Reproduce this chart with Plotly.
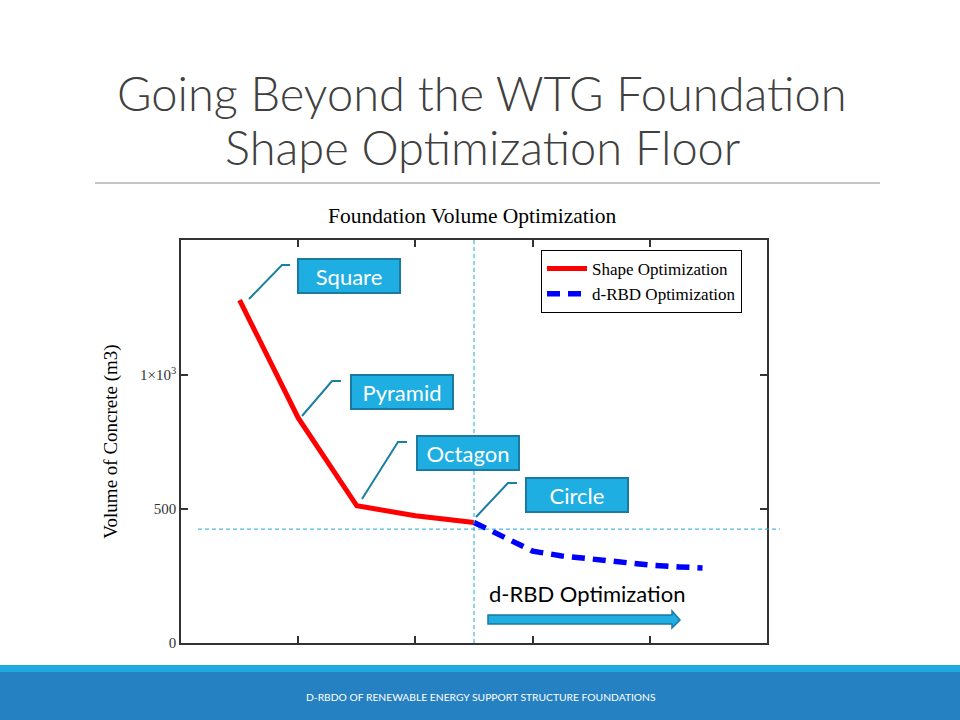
import plotly.graph_objects as go

# ---------------- data ----------------
shape_x = [0.5, 1.0, 1.5, 2.0, 2.5]
shape_y = [1280, 840, 512, 475, 450]
rbd_x = [2.5, 2.75, 3.0, 3.25, 3.5, 3.75, 4.0, 4.25, 4.45]
rbd_y = [450, 397, 343, 325, 312, 302, 291, 284, 280]
x_tickvals = [1, 2, 3, 4]
y_tickvals = [0, 500, 1000]
y_ticktext = ["0", "500", "1×10<sup>3</sup>"]
callout_labels = ["Square", "Pyramid", "Octagon", "Circle"]
ref_x = 2.5
ref_y = 425

slide_title = ["Going Beyond the WTG Foundation", "Shape Optimization Floor"]
chart_title = "Foundation Volume Optimization"
footer_text = "D-RBDO OF RENEWABLE ENERGY SUPPORT STRUCTURE FOUNDATIONS"

# ---------------- layout helpers (pixel -> paper) ----------------
L, R, T, B = 181, 767, 240, 643
W, H = R - L, B - T


def P(px):
    return (px - L) / W


def Q(py):
    return (B - py) / H


SERIF = "Liberation Serif, Times New Roman, serif"
SANS = "Lato, Carlito, Open Sans, sans-serif"
BOX_FILL = "#1eaee2"
BOX_LINE = "#1a7aa0"

fig = go.Figure()
fig.add_trace(go.Scatter(x=shape_x, y=shape_y, mode="lines", name="Shape Optimization",
                         line=dict(color="#ff0000", width=5)))
fig.add_trace(go.Scatter(x=rbd_x, y=rbd_y, mode="lines", name="d-RBD Optimization",
                         line=dict(color="#0000ff", width=5.5, dash="13px,8px")))

shapes = []
annotations = []

# reference dashed lines
shapes.append(dict(type="line", xref="x", yref="paper", x0=ref_x, x1=ref_x, y0=0, y1=Q(237),
                   line=dict(color="#1ea5da", width=1, dash="4px,3px"), layer="above"))
shapes.append(dict(type="line", xref="paper", yref="y", x0=P(198), x1=P(780), y0=ref_y, y1=ref_y,
                   line=dict(color="#1ea5da", width=1, dash="4px,3px"), layer="above"))

# callout boxes
box_centers = [(349, 276), (402, 392), (468, 453), (576.5, 494.5)]
leaders = [
    [(249, 299), (282, 265), (290, 265)],
    [(302, 416), (332, 381), (341, 381)],
    [(362, 499), (398, 442), (407, 442)],
    [(476, 517), (508, 483), (517, 483)],
]
for lab, (cx, cy), pts in zip(callout_labels, box_centers, leaders):
    annotations.append(dict(text=lab, xref="paper", yref="paper", x=P(cx), y=Q(cy),
                            xanchor="center", yanchor="middle", showarrow=False,
                            width=100, height=32, bgcolor=BOX_FILL, bordercolor=BOX_LINE,
                            borderwidth=2, borderpad=0,
                            font=dict(family=SANS, size=22, color="white")))
    path = "M " + " L ".join(f"{P(x):.5f},{Q(y):.5f}" for x, y in pts)
    shapes.append(dict(type="path", xref="paper", yref="paper", path=path,
                       line=dict(color="#1a7fa0", width=2)))

# d-RBD arrow
arrow_pts = [(488, 615), (672, 615), (672, 611), (680, 620), (672, 628), (672, 624), (488, 624)]
apath = "M " + " L ".join(f"{P(x):.5f},{Q(y):.5f}" for x, y in arrow_pts) + " Z"
shapes.append(dict(type="path", xref="paper", yref="paper", path=apath,
                   fillcolor=BOX_FILL, line=dict(color=BOX_LINE, width=1.5)))
annotations.append(dict(text="d-RBD Optimization", xref="paper", yref="paper", x=P(587), y=Q(593),
                        xanchor="center", yanchor="middle", showarrow=False,
                        font=dict(family=SANS, size=22, color="black")))

# chart title
annotations.append(dict(text=chart_title, xref="paper", yref="paper", x=P(472), y=Q(216),
                        xanchor="center", yanchor="middle", showarrow=False,
                        font=dict(family=SERIF, size=21.5, color="black")))

# slide title
for txt, py in zip(slide_title, [93, 147]):
    annotations.append(dict(text=txt, xref="paper", yref="paper", x=P(482), y=Q(py),
                            xanchor="center", yanchor="middle", showarrow=False,
                            font=dict(family=SANS, size=47, color="#404040", weight=300)))
shapes.append(dict(type="line", xref="paper", yref="paper", x0=P(95), x1=P(880), y0=Q(183), y1=Q(183),
                   line=dict(color="#8c8c8c", width=1)))

# footer band
shapes.append(dict(type="rect", xref="paper", yref="paper", x0=P(0), x1=P(960), y0=Q(665), y1=Q(672),
                   fillcolor="#1fabe0", line=dict(width=0), layer="below"))
shapes.append(dict(type="rect", xref="paper", yref="paper", x0=P(0), x1=P(960), y0=Q(672), y1=Q(720),
                   fillcolor="#2681c3", line=dict(width=0), layer="below"))
annotations.append(dict(text=footer_text, xref="paper", yref="paper", x=P(481), y=Q(697),
                        xanchor="center", yanchor="middle", showarrow=False,
                        font=dict(family=SANS, size=10.3, color="white")))

fig.update_layout(
    width=960, height=720,
    margin=dict(l=L, r=960 - R, t=T, b=720 - B),
    paper_bgcolor="white", plot_bgcolor="white",
    showlegend=True,
    legend=dict(x=P(541), y=Q(250), xanchor="left", yanchor="top",
                bordercolor="black", borderwidth=1, bgcolor="white",
                font=dict(family=SERIF, size=17, color="black"),
                tracegroupgap=0, itemwidth=40),
    shapes=shapes, annotations=annotations,
)
fig.update_xaxes(range=[0, 5], tickvals=x_tickvals, showticklabels=False,
                 ticks="inside", ticklen=7, tickcolor="#333", tickwidth=1.5,
                 showline=True, linecolor="#333", linewidth=1.5, mirror="ticks",
                 showgrid=False, zeroline=False)
fig.update_yaxes(range=[0, 1504], tickvals=y_tickvals, ticktext=y_ticktext,
                 ticks="inside", ticklen=7, tickcolor="#333", tickwidth=1.5,
                 showline=True, linecolor="#333", linewidth=1.5, mirror="ticks",
                 showgrid=False, zeroline=False,
                 tickfont=dict(family=SERIF, size=15, color="#333"),
                 title=dict(text="Volume of Concrete (m3)", standoff=17,
                            font=dict(family=SERIF, size=19, color="black")))

fig.write_html("out.html", config={"displayModeBar": False})

# remove the default page margin so the figure sits at the window origin
with open("out.html", encoding="utf-8") as f:
    html = f.read()
html = html.replace("<body>", '<body style="margin:0;padding:0;overflow:hidden;">', 1)
with open("out.html", "w", encoding="utf-8") as f:
    f.write(html)
